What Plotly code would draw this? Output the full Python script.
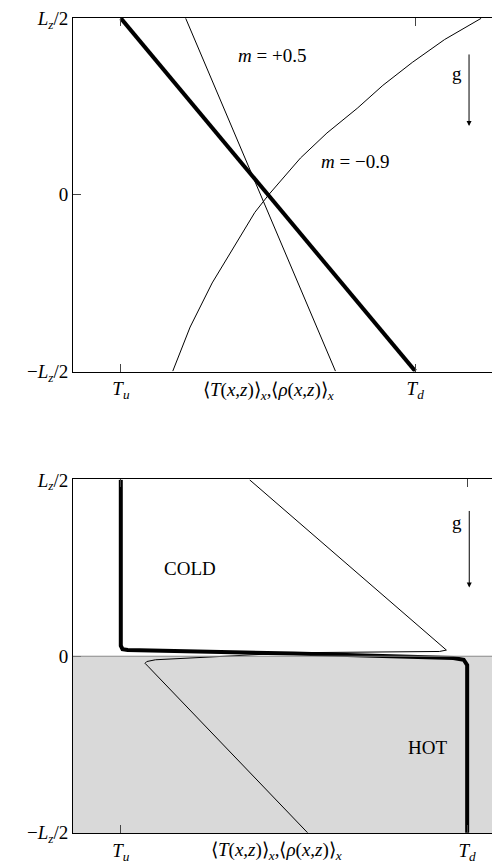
import plotly.graph_objects as go
from plotly.subplots import make_subplots

# top panel (z in units of L_z/2, x in units T_u=0 .. T_d=1)
thick_top_x = [0.0, 1.0]
thick_top_z = [1.0, -1.0]
m05_x = [0.22, 0.729]
m05_z = [1.0, -1.0]
m09_x = [0.176, 0.235, 0.31, 0.40, 0.455, 0.502, 0.555, 0.61, 0.70, 0.803, 0.89, 0.99, 1.10, 1.224]
m09_z = [-1.0, -0.75, -0.5, -0.25, -0.1, 0.0, 0.1, 0.208, 0.35, 0.49, 0.62, 0.75, 0.88, 1.0]

# bottom panel
thick_bot_x = [0.0, 0.0, 0.005, 0.02, 0.5, 0.96, 0.99, 1.0, 1.0]
thick_bot_z = [1.0, 0.06, 0.04, 0.035, 0.015, -0.01, -0.02, -0.05, -1.0]
thin_bot_x = [0.372, 0.934, 0.94, 0.92, 0.5, 0.1, 0.075, 0.07, 0.08, 0.539]
thin_bot_z = [1.0, 0.045, 0.035, 0.027, 0.02, -0.02, -0.03, -0.04, -0.06, -1.0]

FONT = "Liberation Serif"
fig = make_subplots(rows=2, cols=1, vertical_spacing=0.1325)

fig.add_trace(go.Scatter(x=m05_x, y=m05_z, mode="lines", line=dict(color="black", width=1)), 1, 1)
fig.add_trace(go.Scatter(x=m09_x, y=m09_z, mode="lines", line=dict(color="black", width=1)), 1, 1)
fig.add_trace(go.Scatter(x=thick_top_x, y=thick_top_z, mode="lines", line=dict(color="black", width=4)), 1, 1)

fig.add_shape(type="rect", x0=-0.2, x1=1.2, y0=-1.01, y1=0, fillcolor="#d9d9d9",
              line=dict(width=0), layer="below", row=2, col=1)
fig.add_shape(type="line", x0=-0.2, x1=1.2, y0=0, y1=0, line=dict(color="#888", width=1), row=2, col=1)
fig.add_trace(go.Scatter(x=thin_bot_x, y=thin_bot_z, mode="lines", line=dict(color="black", width=1)), 2, 1)
fig.add_trace(go.Scatter(x=thick_bot_x, y=thick_bot_z, mode="lines", line=dict(color="black", width=4)), 2, 1)

tf = dict(family=FONT, size=19, color="black")
ax = dict(showgrid=False, zeroline=False, showline=True, linecolor="black", mirror="ticks",
          ticks="inside", ticklen=8, tickfont=tf, automargin=False)
fig.update_xaxes(**ax, tickvals=[0, 1], ticktext=["<i>T</i><sub><i>u</i></sub>", "<i>T</i><sub><i>d</i></sub>"])
fig.update_yaxes(**ax, range=[-1.002, 1.002], tickvals=[-1, 0, 1],
                 ticktext=["−<i>L</i><sub><i>z</i></sub>/2", "0", "<i>L</i><sub><i>z</i></sub>/2"])
fig.update_xaxes(range=[-0.163, 1.312], row=1, col=1)
fig.update_xaxes(range=[-0.138, 1.115], row=2, col=1)

lab = "⟨<i>T</i>(<i>x,z</i>)⟩<sub><i>x</i></sub>,⟨<i>ρ</i>(<i>x,z</i>)⟩<sub><i>x</i></sub>"
fig.add_annotation(x=0.5, y=-1.0, xref="x", yref="y", text=lab, showarrow=False, yshift=-20, font=tf)
fig.add_annotation(x=0.45, y=-1.0, xref="x2", yref="y2", text=lab, showarrow=False, yshift=-18, font=tf)
fig.add_annotation(x=0.515, y=0.79, xref="x", yref="y", text="<i>m</i> = +0.5", showarrow=False, font=tf)
fig.add_annotation(x=0.795, y=0.19, xref="x", yref="y", text="<i>m</i> = −0.9", showarrow=False, font=tf)
fig.add_annotation(x=1.142, y=0.687, xref="x", yref="y", text="g", showarrow=False, font=tf)
fig.add_annotation(x=1.183, y=0.39, xref="x", yref="y", ax=0, ay=-73, text="", showarrow=True,
                   arrowhead=2, arrowwidth=1, arrowcolor="black")
fig.add_annotation(x=0.971, y=0.76, xref="x2", yref="y2", text="g", showarrow=False, font=tf)
fig.add_annotation(x=1.006, y=0.39, xref="x2", yref="y2", ax=0, ay=-78, text="", showarrow=True,
                   arrowhead=2, arrowwidth=1, arrowcolor="black")
fig.add_annotation(x=0.2, y=0.5, xref="x2", yref="y2", text="COLD", showarrow=False, font=tf)
fig.add_annotation(x=0.885, y=-0.52, xref="x2", yref="y2", text="HOT", showarrow=False, font=tf)

fig.update_layout(width=500, height=864, showlegend=False, plot_bgcolor="white", paper_bgcolor="white",
                  margin=dict(l=65, r=1, t=10, b=39))
fig.write_html("out.html")
